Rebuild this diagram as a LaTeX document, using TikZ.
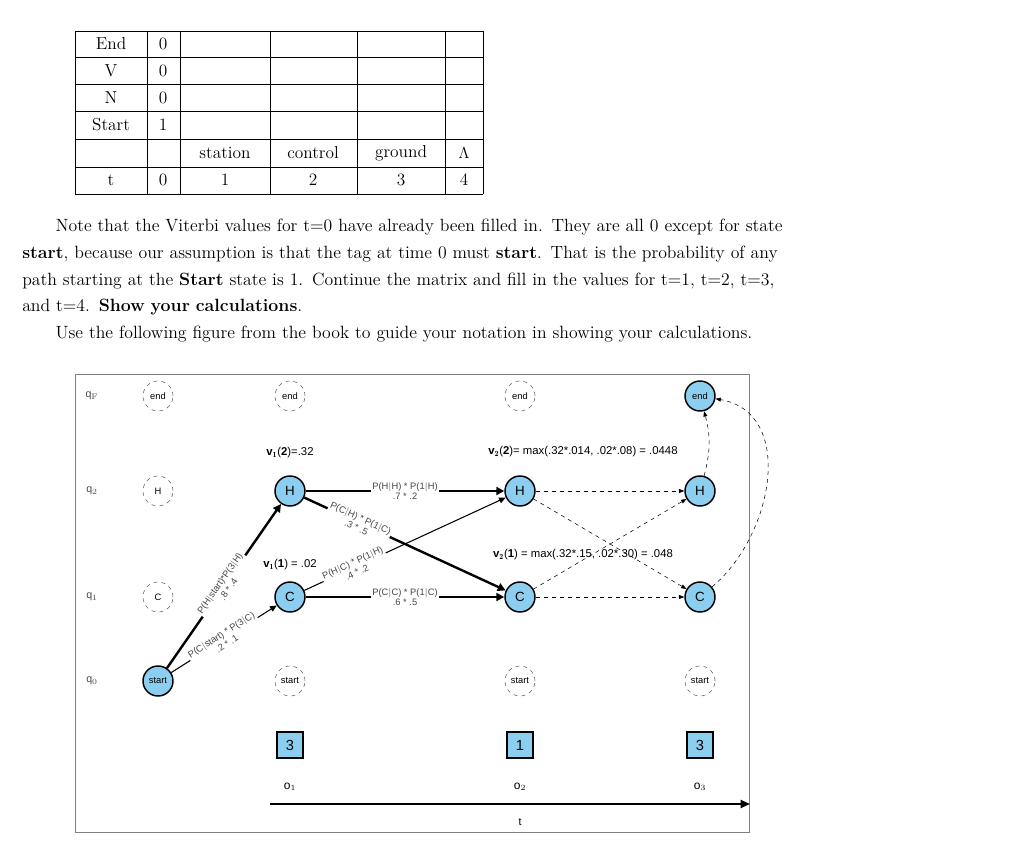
\documentclass[tikz,border=0pt]{standalone}
\usepackage{fontspec}
\newfontfamily\hv{Liberation Sans}
\usetikzlibrary{arrows.meta}
\definecolor{nodeblue}{RGB}{140,206,240}
\definecolor{lblgray}{RGB}{70,70,70}
\tikzset{
 st/.style={circle,draw,line width=1.1pt,fill=nodeblue,minimum size=30*0.75pt,inner sep=0pt,font=\hv\fontsize{10}{11}\selectfont},
 ghost/.style={circle,draw,dashed,gray!70!black,minimum size=30*0.75pt,inner sep=0pt,font=\hv\fontsize{7}{8}\selectfont,text=black},
 elab/.style={fill=white,inner sep=1pt,font=\hv\fontsize{7}{8}\selectfont,text=lblgray,align=center},
 thick arr/.style={line width=1.8pt,-{Triangle[length=6pt,width=6pt]}},
 thin arr/.style={line width=0.8pt,-{Triangle[length=5pt,width=4.5pt]}},
 dash arr/.style={dashed,line width=0.4pt,-{Triangle[length=4pt,width=3pt]}},
 vlab/.style={font=\hv\fontsize{8.5}{10}\selectfont},
 cell/.style={font=\fontsize{13}{15}\selectfont},
 qlab/.style={font=\hv\fontsize{8}{9}\selectfont,text=gray!60!black},
 obs/.style={draw,line width=0.8pt,fill=nodeblue,minimum size=26*0.75pt,inner sep=0pt,font=\hv\fontsize{11}{12}\selectfont}
}
\newcommand{\vv}[2]{\textbf{v}$_{\mathbf{#1}}$(\textbf{#2})}
\begin{document}
\begin{tikzpicture}[x=0.75pt,y=-0.75pt]
\useasboundingbox (0,0) rectangle (1024,841);
% table
\foreach \yy in {31,57,84,111,139,167,194} \draw[line width=0.5pt] (75,\yy) -- (483,\yy);
\foreach \xx in {75,147,180,270,357,445,483} \draw[line width=0.5pt] (\xx,31) -- (\xx,194);
\foreach \tt/\yy in {End/44,V/71,N/98,Start/125} \node[cell] at (111,\yy) {\tt};
\foreach \tt/\yy in {0/44,0/71,0/98,1/125} \node[cell] at (163,\yy) {\tt};
\node[cell] at (225,153) {station};
\node[cell] at (313,153) {control};
\node[cell] at (401,153) {ground};
\node[cell] at (464,153) {$\Lambda$};
\node[cell] at (111,180) {t};
\node[cell] at (163,180) {0};
\node[cell] at (225,180) {1};
\node[cell] at (313,180) {2};
\node[cell] at (401,180) {3};
\node[cell] at (464,180) {4};
% paragraph
\node[anchor=north west,inner sep=0pt,text width=915*0.75pt,font=\fontsize{13.3}{20}\selectfont] (para) at (22,219)
{\hspace*{25pt}Note that the Viterbi values for t=0 have already been filled in. They are all 0 except for state \textbf{start}, because our assumption is that the tag at time 0 must \textbf{start}. That is the probability of any path starting at the \textbf{Start} state is 1. Continue the matrix and fill in the values for t=1, t=2, t=3,\linebreak and t=4. \textbf{Show your calculations}.\par
\hspace*{25pt}Use the following figure from the book to guide your notation in showing your calculations.};
% figure frame
\draw[gray,line width=0.6pt] (75,374) rectangle (749,832);
% q labels
\node[qlab] (qf) at (92,396) {q$_\mathrm{F}$};
\node[qlab] (q2) at (92,491) {q$_2$};
\node[qlab] (q1) at (92,597) {q$_1$};
\node[qlab] (q0) at (92,681) {q$_0$};
% nodes
\node[ghost] (e0) at (158,396) {end};
\node[ghost] (h0) at (158,491) {H};
\node[ghost] (c0) at (158,597) {C};
\node[st,font=\hv\fontsize{7}{8}\selectfont] (s0) at (158,681) {start};
\node[ghost] (e1) at (290,396) {end};
\node[st] (h1) at (290,491) {H};
\node[st] (c1) at (290,597) {C};
\node[ghost] (s1) at (290,681) {start};
\node[ghost] (e2) at (520,396) {end};
\node[st] (h2) at (520,491) {H};
\node[st] (c2) at (520,597) {C};
\node[ghost] (s2) at (520,681) {start};
\node[st,font=\hv\fontsize{7}{8}\selectfont] (e3) at (700,396) {end};
\node[st] (h3) at (700,491) {H};
\node[st] (c3) at (700,597) {C};
\node[ghost] (s3) at (700,681) {start};
% edges
\draw[thick arr] (s0) -- node[elab,sloped]{P(H$|$start)*P(3$|$H)\\.8 * .4} (h1);
\draw[thin arr] (s0) -- node[elab,sloped]{P(C$|$start) * P(3$|$C)\\.2 * .1} (c1);
\draw[thick arr] (h1) -- node[elab]{P(H$|$H) * P(1$|$H)\\.7 * .2} (h2);
\draw[thick arr] (h1) -- node[elab,sloped,pos=0.27]{P(C$|$H) * P(1$|$C)\\.3 * .5} (c2);
\draw[thin arr] (c1) -- node[elab,sloped,pos=0.25]{P(H$|$C) * P(1$|$H)\\.4 * .2} (h2);
\draw[thick arr] (c1) -- node[elab]{P(C$|$C) * P(1$|$C)\\.6 * .5} (c2);
\draw[dash arr] (h2) -- (h3);
\draw[dash arr] (h2) -- (c3);
\draw[dash arr] (c2) -- (h3);
\draw[dash arr] (c2) -- (c3);
\draw[dash arr] (h3) to[bend right=15] (e3);
\draw[dash arr] (c3) to[out=40,in=-10,looseness=1.1] (e3);
% v labels
\node[vlab] at (290,453) {\vv{1}{2}=.32};
\node[vlab] at (290,565) {\vv{1}{1} = .02};
\node[vlab] at (583,452) {\vv{2}{2}= max(.32*.014, .02*.08) = .0448};
\node[vlab] at (583,555) {\vv{2}{1} = max(.32*.15, .02*.30) = .048};
% observations
\node[obs] (o1) at (290,745) {3};
\node[obs] (o2) at (520,745) {1};
\node[obs] (o3) at (700,745) {3};
\node[font=\hv\fontsize{9}{10}\selectfont] at (290,787) {o$_1$};
\node[font=\hv\fontsize{9}{10}\selectfont] at (520,787) {o$_2$};
\node[font=\hv\fontsize{9}{10}\selectfont] at (700,787) {o$_3$};
\coordinate (ta) at (270,804);
\coordinate (tb) at (750,804);
\draw[line width=1.5pt,-{Triangle[length=7pt,width=6pt]}] (ta) -- (tb);
\node[font=\hv\fontsize{8}{9}\selectfont] at (520,822) {t};
\end{tikzpicture}
\end{document}
